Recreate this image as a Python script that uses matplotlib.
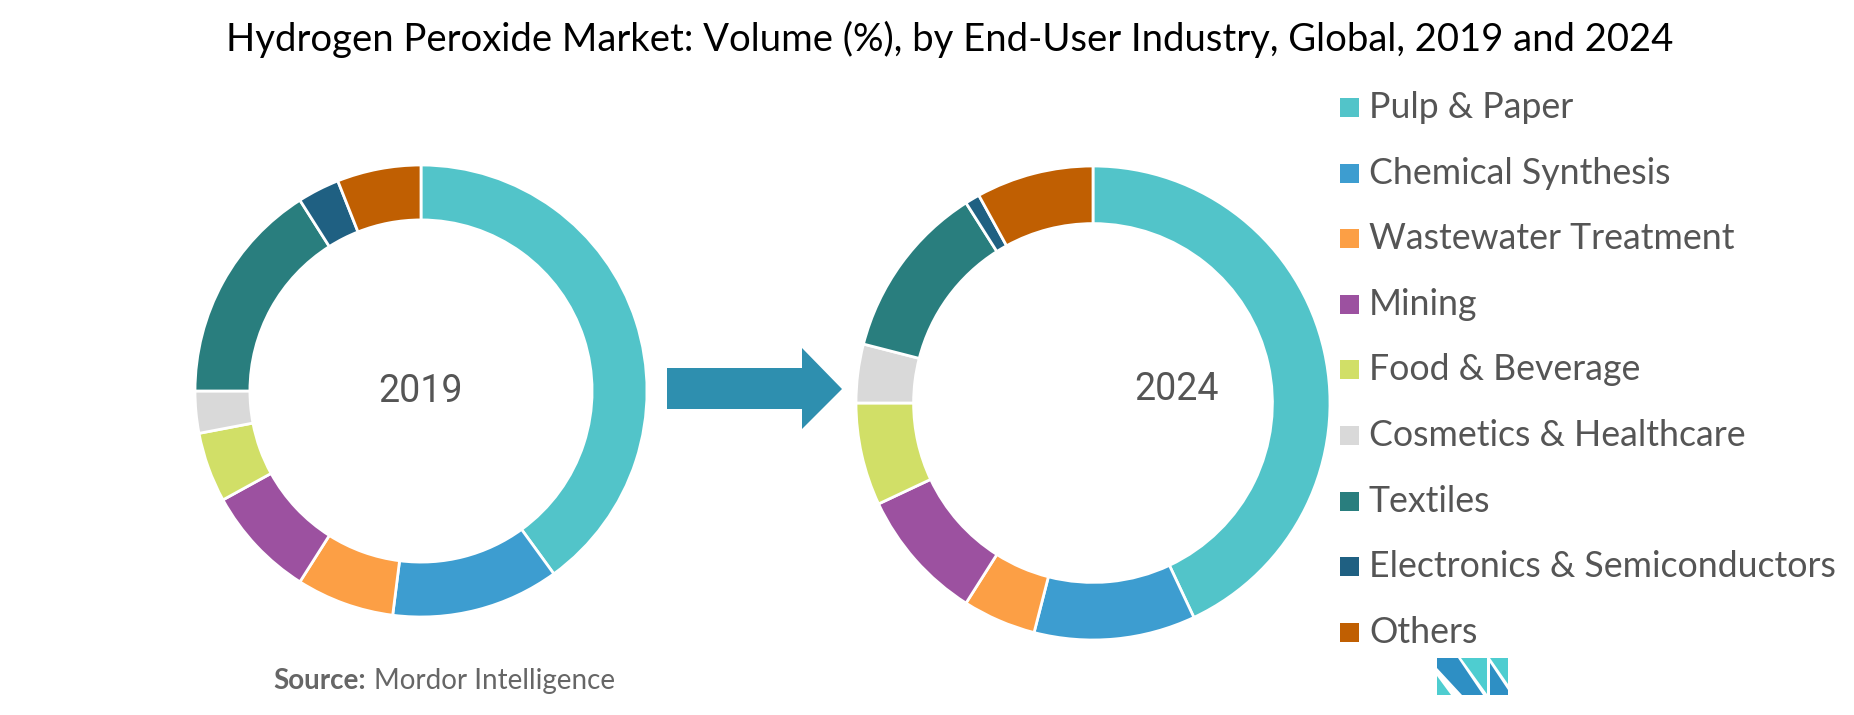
import numpy as np
import matplotlib
matplotlib.use("Agg")
import matplotlib.pyplot as plt
from matplotlib.patches import Polygon, Rectangle

# Data
industries = ["Pulp & Paper", "Chemical Synthesis", "Wastewater Treatment", "Mining",
              "Food & Beverage", "Cosmetics & Healthcare", "Textiles",
              "Electronics & Semiconductors", "Others"]
share_2019 = [40, 12, 7, 8, 5, 3, 16, 3, 6]
share_2024 = [43, 11, 5, 9, 7, 4, 12, 1, 8]
colors = ["#52C4C9", "#3D9DD0", "#FC9F45", "#9C51A0", "#D1DF67",
          "#D9D9D9", "#297E7E", "#1F6082", "#C05F02"]

W, H = 1854, 715
fig = plt.figure(figsize=(W / 100, H / 100), dpi=100)


def donut(cx, cy, r, values, label, lx=0.0, ly=0.0):
    ax = fig.add_axes([(cx - r) / W, (H - cy - r) / H, 2 * r / W, 2 * r / H])
    ax.pie(values, colors=colors, startangle=90, counterclock=False, radius=1,
           wedgeprops=dict(width=0.243, edgecolor="white", linewidth=2))
    ax.set_xlim(-1, 1)
    ax.set_ylim(-1, 1)
    ax.set_aspect("equal")
    ax.axis("off")
    ax.text(lx, ly, label, ha="center", va="center", fontsize=27,
            color="#555555", family="Roboto")
    return ax


donut(421, 391, 226, share_2019, "2019")
donut(1093, 403, 237, share_2024, "2024", lx=0.354, ly=0.055)

# overlay in pixel coordinates
ov = fig.add_axes([0, 0, 1, 1], zorder=-1)
ov.set_xlim(0, W)
ov.set_ylim(H, 0)
ov.axis("off")

# arrow between the donuts
arrow = [(667, 368), (802, 368), (802, 348), (842, 389), (802, 429), (802, 409), (667, 409)]
ov.add_patch(Polygon(arrow, closed=True, facecolor="#2E8FAF", edgecolor="none"))

# legend
for i, (name, c) in enumerate(zip(industries, colors)):
    y = 107.5 + i * 65.6
    ov.add_patch(Rectangle((1340, y - 9.5), 19, 19, facecolor=c, edgecolor="none"))
    ov.text(1369, y, name, ha="left", va="center", fontsize=25.7,
            color="#555555", family="Lato")

# title
fig.text(950 / W, 1 - 39 / H, "Hydrogen Peroxide Market: Volume (%), by End-User Industry, Global, 2019 and 2024",
         ha="center", va="center", fontsize=27.5, color="black", family="Lato")

# source
ov.text(273, 681, "Source:", ha="left", va="center", fontsize=20, fontweight="bold",
        color="#666666", family="Lato")
ov.text(374, 681, "Mordor Intelligence", ha="left", va="center", fontsize=20,
        color="#666666", family="Lato")

# logo
dark, light = "#2E8FC4", "#4ECDD0"
ov.add_patch(Polygon([(1437, 658), (1458, 658), (1483, 695), (1462, 695), (1437, 668)], facecolor=dark))
ov.add_patch(Polygon([(1437, 676), (1451, 695), (1437, 695)], facecolor=light))
ov.add_patch(Polygon([(1461, 658), (1487, 658), (1487, 694)], facecolor=light))
ov.add_patch(Polygon([(1490, 658), (1508, 658), (1508, 684)], facecolor=light))
ov.add_patch(Polygon([(1490, 663), (1508, 690), (1508, 695), (1490, 695)], facecolor=dark))

fig.savefig("out.png", dpi=100, facecolor="white")
